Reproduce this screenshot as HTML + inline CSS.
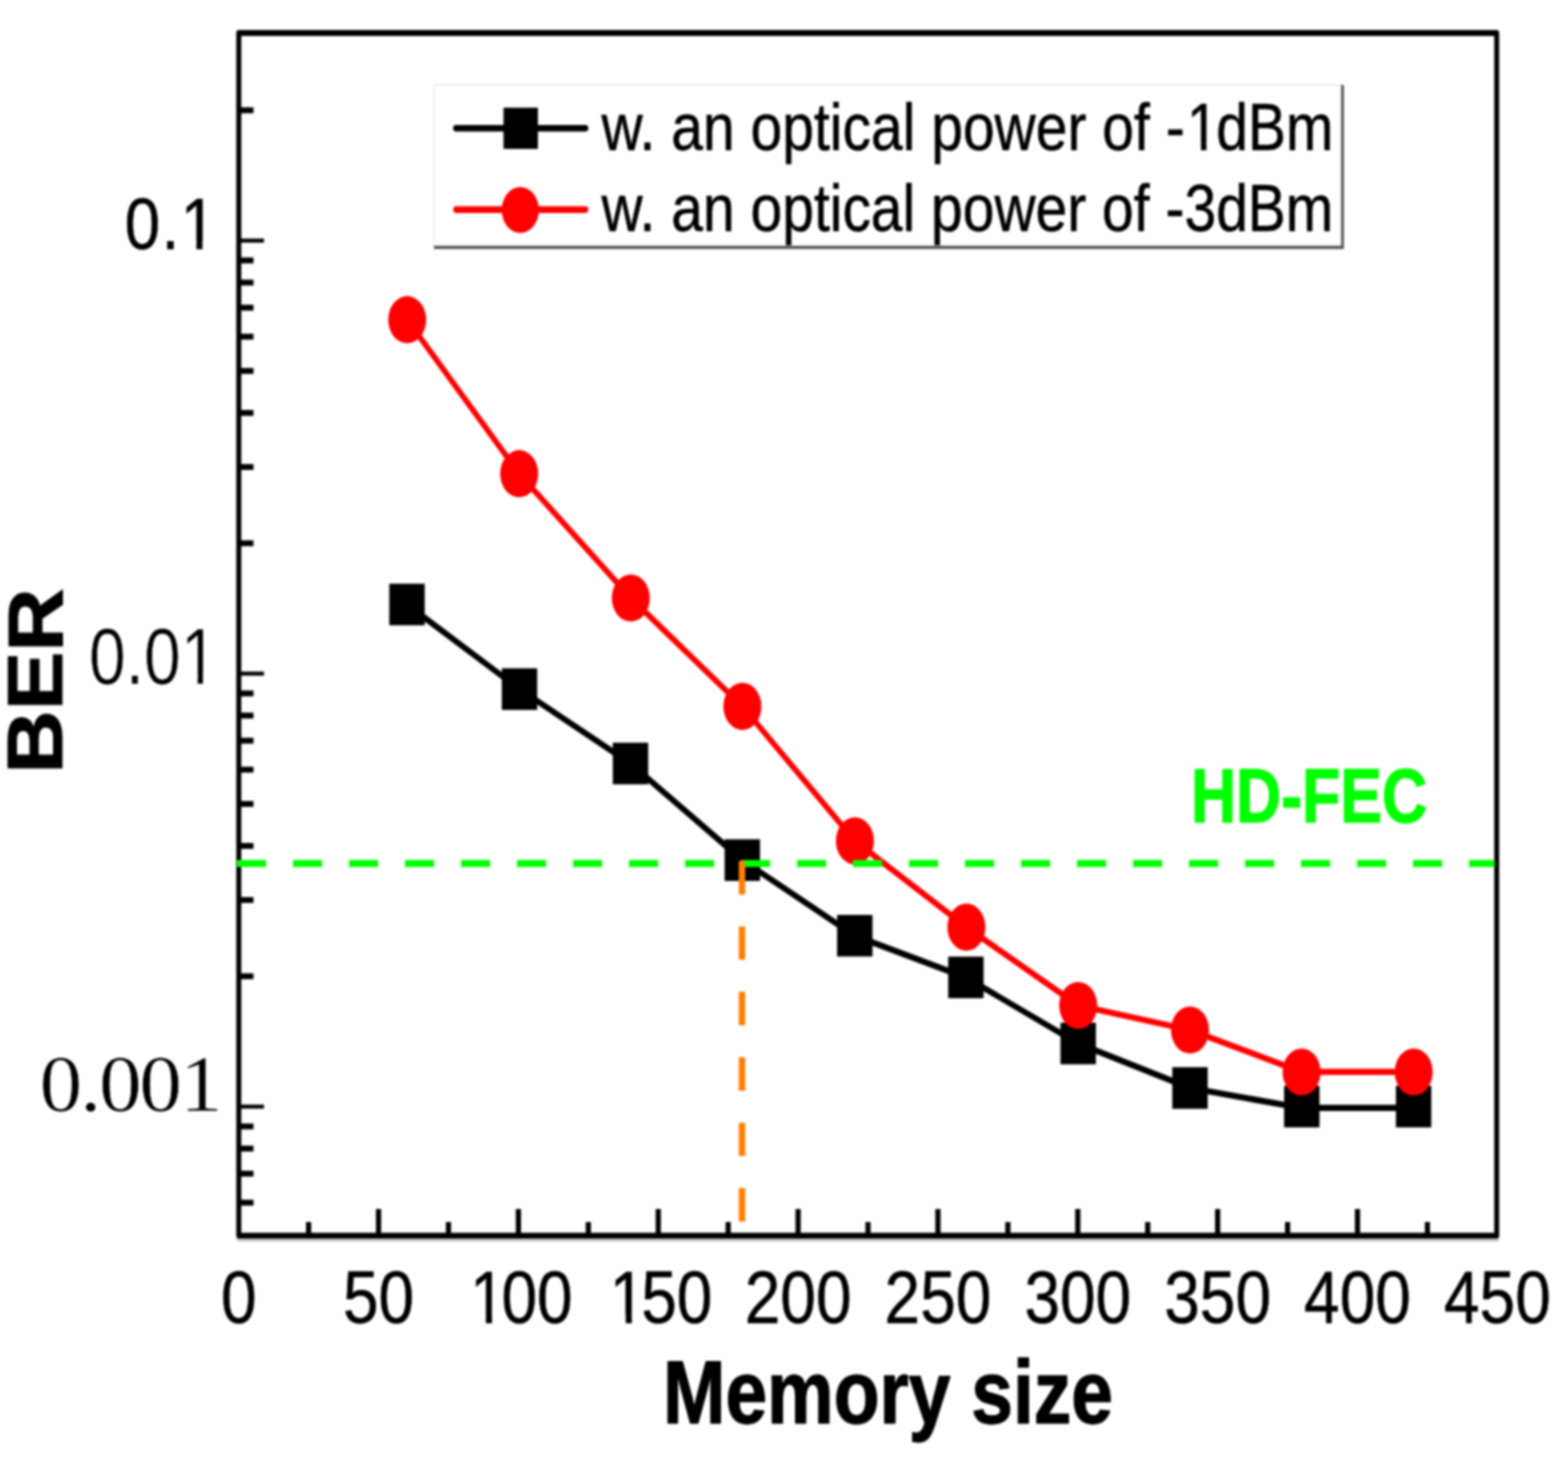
<!DOCTYPE html>
<html lang="en"><head><meta charset="utf-8"><title>BER versus memory size</title>
<style>
html,body{margin:0;padding:0;background:#fff}
body{width:1561px;height:1457px;overflow:hidden}
svg{display:block}
text{font-family:"Liberation Sans",sans-serif;fill:#000}
.r{stroke:#000;stroke-width:0.5;stroke-linejoin:round}
.b{font-weight:bold;stroke:#000;stroke-width:1.1;stroke-linejoin:round}
.thin{stroke:#fff;stroke-width:0.5}
.serif{font-family:"Liberation Serif",serif;stroke:#fff;stroke-width:0.5}
.g{fill:#0f0;stroke:#0f0}
.k{stroke:#000;fill:none}
</style>
</head><body>
<svg width="1561" height="1457" viewBox="0 0 1561 1457">
<defs><filter id="soft" x="-2%" y="-2%" width="104%" height="104%" color-interpolation-filters="sRGB"><feGaussianBlur stdDeviation="1.1"/></filter></defs>
<rect width="1561" height="1457" fill="#fff"/>
<g filter="url(#soft)">
<g transform="scale(1,1.18)">
<line x1="236.8" y1="1051.36" x2="1498.7" y2="1051.36" stroke="#c8c8c8" stroke-width="2"/>
<rect class="k" x="238.8" y="27.97" width="1257.9" height="1019.32" stroke-width="5.0" stroke-linejoin="round"/>
<g class="k">
<line x1="238.8" y1="203.9" x2="264" y2="203.9" stroke-width="3.4"/>
<line x1="238.8" y1="570.85" x2="264" y2="570.85" stroke-width="3.4"/>
<line x1="238.8" y1="460.38" x2="253.5" y2="460.38" stroke-width="5.0"/>
<line x1="238.8" y1="395.77" x2="253.5" y2="395.77" stroke-width="5.0"/>
<line x1="238.8" y1="349.92" x2="253.5" y2="349.92" stroke-width="5.0"/>
<line x1="238.8" y1="314.36" x2="253.5" y2="314.36" stroke-width="5.0"/>
<line x1="238.8" y1="285.31" x2="253.5" y2="285.31" stroke-width="5.0"/>
<line x1="238.8" y1="260.74" x2="253.5" y2="260.74" stroke-width="5.0"/>
<line x1="238.8" y1="239.46" x2="253.5" y2="239.46" stroke-width="5.0"/>
<line x1="238.8" y1="220.69" x2="253.5" y2="220.69" stroke-width="5.0"/>
<line x1="238.8" y1="937.8" x2="264" y2="937.8" stroke-width="3.4"/>
<line x1="238.8" y1="827.33" x2="253.5" y2="827.33" stroke-width="5.0"/>
<line x1="238.8" y1="762.72" x2="253.5" y2="762.72" stroke-width="5.0"/>
<line x1="238.8" y1="716.87" x2="253.5" y2="716.87" stroke-width="5.0"/>
<line x1="238.8" y1="681.31" x2="253.5" y2="681.31" stroke-width="5.0"/>
<line x1="238.8" y1="652.25" x2="253.5" y2="652.25" stroke-width="5.0"/>
<line x1="238.8" y1="627.69" x2="253.5" y2="627.69" stroke-width="5.0"/>
<line x1="238.8" y1="606.41" x2="253.5" y2="606.41" stroke-width="5.0"/>
<line x1="238.8" y1="587.64" x2="253.5" y2="587.64" stroke-width="5.0"/>
<line x1="238.8" y1="1019.2" x2="253.5" y2="1019.2" stroke-width="5.0"/>
<line x1="238.8" y1="994.64" x2="253.5" y2="994.64" stroke-width="5.0"/>
<line x1="238.8" y1="973.36" x2="253.5" y2="973.36" stroke-width="5.0"/>
<line x1="238.8" y1="954.59" x2="253.5" y2="954.59" stroke-width="5.0"/>
<line x1="238.8" y1="93.44" x2="253.5" y2="93.44" stroke-width="5.0"/>
<line x1="308.62" y1="1047.29" x2="308.62" y2="1035.59" stroke-width="5.2"/>
<line x1="378.55" y1="1047.29" x2="378.55" y2="1024.58" stroke-width="5.2"/>
<line x1="448.48" y1="1047.29" x2="448.48" y2="1035.59" stroke-width="5.2"/>
<line x1="518.4" y1="1047.29" x2="518.4" y2="1024.58" stroke-width="5.2"/>
<line x1="588.33" y1="1047.29" x2="588.33" y2="1035.59" stroke-width="5.2"/>
<line x1="658.25" y1="1047.29" x2="658.25" y2="1024.58" stroke-width="5.2"/>
<line x1="728.17" y1="1047.29" x2="728.17" y2="1035.59" stroke-width="5.2"/>
<line x1="798.1" y1="1047.29" x2="798.1" y2="1024.58" stroke-width="5.2"/>
<line x1="868.03" y1="1047.29" x2="868.03" y2="1035.59" stroke-width="5.2"/>
<line x1="937.95" y1="1047.29" x2="937.95" y2="1024.58" stroke-width="5.2"/>
<line x1="1007.88" y1="1047.29" x2="1007.88" y2="1035.59" stroke-width="5.2"/>
<line x1="1077.8" y1="1047.29" x2="1077.8" y2="1024.58" stroke-width="5.2"/>
<line x1="1147.73" y1="1047.29" x2="1147.73" y2="1035.59" stroke-width="5.2"/>
<line x1="1217.65" y1="1047.29" x2="1217.65" y2="1024.58" stroke-width="5.2"/>
<line x1="1287.58" y1="1047.29" x2="1287.58" y2="1035.59" stroke-width="5.2"/>
<line x1="1357.5" y1="1047.29" x2="1357.5" y2="1024.58" stroke-width="5.2"/>
<line x1="1427.43" y1="1047.29" x2="1427.43" y2="1035.59" stroke-width="5.2"/>
</g>
<rect x="434" y="72.03" width="908.5" height="137.54" fill="#fff" stroke="#eee" stroke-width="1.6"/>
<path d="M434 209.58H1342.5V72.03" fill="none" stroke="#555" stroke-width="2.8"/>
<line x1="456" y1="108.73" x2="585.5" y2="108.73" stroke="#000" stroke-width="5.6" stroke-linecap="round"/>
<rect x="503.5" y="91.27" width="34.4" height="34.92" fill="#000"/>
<g transform="translate(601.6,127.03)"><text class="r f1" font-size="57" dx="0 0 0 0 0 0 0 0 0 0 0 0 0 0 0 0 0 0 0 0 0 0 0 0 2.2 -2.2">w. an optical power of -1dBm</text><rect x="588.39" y="-5.96" width="10.94" height="7.16" fill="#fff"/><rect x="604.87" y="-5.96" width="10.5" height="7.16" fill="#fff"/></g>
<line x1="456" y1="177.63" x2="585.5" y2="177.63" stroke="#f00" stroke-width="5.6" stroke-linecap="round"/>
<ellipse cx="520.3" cy="177.97" rx="18.6" ry="19.49" fill="#f00"/>
<g transform="translate(601.6,195.93)"><text class="r f1" font-size="57">w. an optical power of -3dBm</text></g>
<polyline points="407,512.29 519.5,583.98 630.5,647.03 742.3,728.9 854.8,792.97 965.9,828.31 1078.2,884.32 1190,922.03 1301.8,938.98 1413.6,938.98" fill="none" stroke="#000" stroke-width="5.3" stroke-linejoin="round"/>
<rect x="389.3" y="494.66" width="35.4" height="35.25"/>
<rect x="501.8" y="566.36" width="35.4" height="35.25"/>
<rect x="612.8" y="629.41" width="35.4" height="35.25"/>
<rect x="724.6" y="711.27" width="35.4" height="35.25"/>
<rect x="837.1" y="775.34" width="35.4" height="35.25"/>
<rect x="948.2" y="810.68" width="35.4" height="35.25"/>
<rect x="1060.5" y="866.69" width="35.4" height="35.25"/>
<rect x="1172.3" y="904.41" width="35.4" height="35.25"/>
<rect x="1284.1" y="920.17" width="35.4" height="35.25"/>
<rect x="1395.9" y="920.17" width="35.4" height="35.25"/>
<polyline points="407.2,270.93 519.2,401.44 630.8,506.78 742.4,598.64 854.9,712.63 966.4,785.68 1078.2,852.12 1190,872.88 1301.6,908.47 1413.7,908.47" fill="none" stroke="#f00" stroke-width="5.3" stroke-linejoin="round"/>
<ellipse cx="407.2" cy="270.93" rx="19" ry="20" fill="#f00"/>
<ellipse cx="519.2" cy="401.44" rx="19" ry="20" fill="#f00"/>
<ellipse cx="630.8" cy="506.78" rx="19" ry="20" fill="#f00"/>
<ellipse cx="742.4" cy="598.64" rx="19" ry="20" fill="#f00"/>
<ellipse cx="854.9" cy="712.63" rx="19" ry="20" fill="#f00"/>
<ellipse cx="966.4" cy="785.68" rx="19" ry="20" fill="#f00"/>
<ellipse cx="1078.2" cy="852.12" rx="19" ry="20" fill="#f00"/>
<ellipse cx="1190" cy="872.88" rx="19" ry="20" fill="#f00"/>
<ellipse cx="1301.6" cy="908.47" rx="19" ry="20" fill="#f00"/>
<ellipse cx="1413.7" cy="908.47" rx="19" ry="20" fill="#f00"/>
<line x1="237" y1="731.78" x2="1494.7" y2="731.78" stroke="#0f0" stroke-width="6" stroke-dasharray="29 27"/>
<line x1="742" y1="729.66" x2="742" y2="1035.59" stroke="#ff7f00" stroke-width="6.4" stroke-dasharray="28.31 27.12"/>
<g transform="translate(1309,696.36) scale(1,1.04)"><text class="b g" font-size="62.5" text-anchor="middle">HD-FEC</text></g>
<g transform="translate(217.5,211.02) scale(1,0.97)"><text class="r f1" font-size="63.5" text-anchor="end" letter-spacing="1.5">0.1</text><rect x="-33.19" y="-6.44" width="12.08" height="7.64" fill="#fff"/><rect x="-15" y="-6.44" width="11.59" height="7.64" fill="#fff"/></g>
<g transform="translate(217.5,579.66) scale(1,1.025)"><text class="thin f1" font-size="66" text-anchor="end">0.01</text><rect x="-32.89" y="-6.63" width="13.02" height="7.83" fill="#fff"/><rect x="-14.54" y="-6.63" width="12.5" height="7.83" fill="#fff"/></g>
<g transform="translate(220.2,941.78) scale(1.25,1)"><text class="serif" font-size="68.5" text-anchor="end" letter-spacing="-1.9">0.001</text></g>
<g transform="translate(238.7,1121.36) scale(1,0.98)"><text class="r f1" font-size="64" text-anchor="middle">0</text></g>
<g transform="translate(378.55,1121.36) scale(1,0.98)"><text class="r f1" font-size="64" text-anchor="middle">50</text></g>
<g transform="translate(517.1,1121.36) scale(1,0.98)"><text class="r f1" font-size="64" text-anchor="middle" dx="4.2 -4.2">100</text><rect x="-43.42" y="-6.48" width="12.17" height="7.68" fill="#fff"/><rect x="-25.09" y="-6.48" width="11.67" height="7.68" fill="#fff"/></g>
<g transform="translate(656.95,1121.36) scale(1,0.98)"><text class="r f1" font-size="64" text-anchor="middle" dx="4.2 -4.2">150</text><rect x="-43.42" y="-6.48" width="12.17" height="7.68" fill="#fff"/><rect x="-25.09" y="-6.48" width="11.67" height="7.68" fill="#fff"/></g>
<g transform="translate(798.1,1121.36) scale(1,0.98)"><text class="r f1" font-size="64" text-anchor="middle">200</text></g>
<g transform="translate(937.95,1121.36) scale(1,0.98)"><text class="r f1" font-size="64" text-anchor="middle">250</text></g>
<g transform="translate(1077.8,1121.36) scale(1,0.98)"><text class="r f1" font-size="64" text-anchor="middle">300</text></g>
<g transform="translate(1217.65,1121.36) scale(1,0.98)"><text class="r f1" font-size="64" text-anchor="middle">350</text></g>
<g transform="translate(1357.5,1121.36) scale(1,0.98)"><text class="r f1" font-size="64" text-anchor="middle">400</text></g>
<g transform="translate(1497.35,1121.36) scale(1,0.98)"><text class="r f1" font-size="64" text-anchor="middle">450</text></g>
<g transform="translate(888,1205.51)"><text class="b" font-size="75" text-anchor="middle">Memory size</text></g>
</g>
<text class="b" transform="translate(62,681) rotate(-90) scale(1.14,1)" font-size="77" text-anchor="middle">BER</text>
</g>
</svg>
</body></html>
